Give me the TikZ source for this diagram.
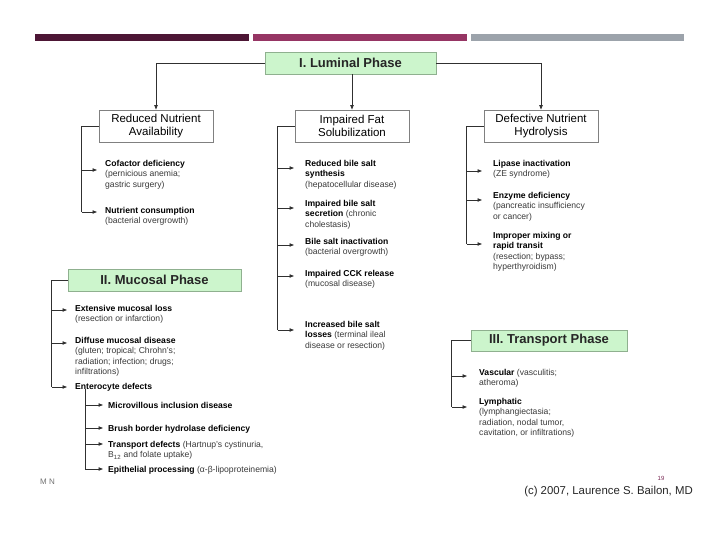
\documentclass[tikz,border=0pt]{standalone}
\usepackage{fontspec}
\setmainfont{Liberation Sans}
\usetikzlibrary{arrows.meta}
\definecolor{barA}{HTML}{4D1635}
\definecolor{barB}{HTML}{963564}
\definecolor{barC}{HTML}{9CA3AB}
\definecolor{greenfill}{HTML}{CCF5CC}
\definecolor{greenedge}{HTML}{8FB08F}
\definecolor{boxedge}{HTML}{808080}
\definecolor{txtgray}{HTML}{3A3A3A}
\definecolor{linegray}{HTML}{303030}
\definecolor{pagenum}{HTML}{7A2A55}
\tikzset{
  phasebox/.style={draw=greenedge, fill=greenfill, line width=0.8pt, inner sep=0pt,
    font=\fontsize{13}{15}\selectfont\bfseries, text=black!85},
  catbox/.style={draw=boxedge, fill=white, line width=0.8pt, inner sep=0pt, align=center,
    minimum width=114pt, minimum height=32pt, font=\fontsize{11.5}{12.5}\selectfont},
  item/.style={anchor=north west, inner sep=0pt, align=left,
    font=\fontsize{8.6}{10.5}\selectfont},
  ln/.style={draw=linegray, line width=0.8pt},
  arr/.style={ln, -{Triangle[length=4.5pt,width=3.4pt]}},
}
\newcommand{\rg}[1]{{\mdseries\color{txtgray}#1}}
\begin{document}
\begin{tikzpicture}[x=1pt,y=-1pt]
\useasboundingbox (0,0) rectangle (720,540);
\fill[white] (0,0) rectangle (720,540);
% top bars
\fill[barA] (35,34) rectangle (249,41);
\fill[barB] (253,34) rectangle (467,41);
\fill[barC] (471,34) rectangle (684,41);

% phase boxes
\node[phasebox, minimum width=171pt, minimum height=22pt] (lum) at (350.5,63) {I. Luminal Phase};
\node[phasebox, minimum width=173pt, minimum height=22pt] (muc) at (154.5,280) {II. Mucosal Phase};
\node[phasebox, minimum width=156pt, minimum height=21pt] (trn) at (549,340.5) {III. Transport Phase};

% category boxes
\node[catbox] (rna) at (156,126) {Reduced Nutrient\\Availability};
\node[catbox] (ifs) at (352,126) {Impaired Fat\\Solubilization};
\node[catbox] (dnh) at (541,126) {Defective Nutrient\\Hydrolysis};

\draw[arr] (lum.west) -| (rna.north);
\draw[arr] (lum.east) -| (dnh.north);
\draw[arr] (lum.south -| ifs.north) -- (ifs.north);

% column 1
\node[item] (c1a) at (105,160) {\textbf{Cofactor deficiency}\\\rg{(pernicious anemia;}\\\rg{gastric surgery)}};
\node[item] (c1b) at (105,207) {\textbf{Nutrient consumption}\\\rg{(bacterial overgrowth)}};
\coordinate (t1a) at (97,170);
\coordinate (t1b) at (97,212);
\draw[ln] (rna.west) -- ++(-17,0) coordinate (b1) -- (b1 |- t1b);
\draw[arr] (b1 |- t1a) -- (t1a);
\draw[arr] (b1 |- t1b) -- (t1b);

% column 2
\node[item] (c2a) at (305,160) {\textbf{Reduced bile salt}\\\textbf{synthesis}\\\rg{(hepatocellular disease)}};
\node[item] (c2b) at (305,200) {\textbf{Impaired bile salt}\\\textbf{secretion} \rg{(chronic}\\\rg{cholestasis)}};
\node[item] (c2c) at (305,238) {\textbf{Bile salt inactivation}\\\rg{(bacterial overgrowth)}};
\node[item] (c2d) at (305,270) {\textbf{Impaired CCK release}\\\rg{(mucosal disease)}};
\node[item] (c2e) at (305,321) {\textbf{Increased bile salt}\\\textbf{losses} \rg{(terminal ileal}\\\rg{disease or resection)}};
\coordinate (t2a) at (294,168);
\coordinate (t2b) at (294,208);
\coordinate (t2c) at (294,245);
\coordinate (t2d) at (294,276);
\coordinate (t2e) at (294,330);
\draw[ln] (ifs.west) -- ++(-17,0) coordinate (b2) -- (b2 |- t2e);
\foreach \t in {t2a,t2b,t2c,t2d,t2e} \draw[arr] (b2 |- \t) -- (\t);

% column 3
\node[item] (c3a) at (493,160) {\textbf{Lipase inactivation}\\\rg{(ZE syndrome)}};
\node[item] (c3b) at (493,192) {\textbf{Enzyme deficiency}\\\rg{(pancreatic insufficiency}\\\rg{or cancer)}};
\node[item] (c3c) at (493,232) {\textbf{Improper mixing or}\\\textbf{rapid transit}\\\rg{(resection; bypass;}\\\rg{hyperthyroidism)}};
\coordinate (t3a) at (482,171);
\coordinate (t3b) at (482,200);
\coordinate (t3c) at (482,244);
\draw[ln] (dnh.west) -- ++(-17,0) coordinate (b3) -- (b3 |- t3c);
\foreach \t in {t3a,t3b,t3c} \draw[arr] (b3 |- \t) -- (\t);

% mucosal phase
\node[item] (m1) at (75,305) {\textbf{Extensive mucosal loss}\\\rg{(resection or infarction)}};
\node[item] (m2) at (75,337) {\textbf{Diffuse mucosal disease}\\\rg{(gluten; tropical; Chrohn's;}\\\rg{radiation; infection; drugs;}\\\rg{infiltrations)}};
\node[item] (m3) at (75,383) {\textbf{Enterocyte defects}};
\coordinate (tm1) at (67,310);
\coordinate (tm2) at (67,343);
\coordinate (tm3) at (67,387);
\draw[ln] (muc.west) -- ++(-16,0) coordinate (bm) -- (bm |- tm3);
\foreach \t in {tm1,tm2,tm3} \draw[arr] (bm |- \t) -- (\t);

\node[item] (s1) at (108,402) {\textbf{Microvillous inclusion disease}};
\node[item] (s2) at (108,425) {\textbf{Brush border hydrolase deficiency}};
\node[item] (s3) at (108,441) {\textbf{Transport defects} \rg{(Hartnup's cystinuria,}\\\rg{B\textsubscript{12} and folate uptake)}};
\node[item] (s4) at (108,466) {\textbf{Epithelial processing} \rg{(α-β-lipoproteinemia)}};
\coordinate (ts1) at (103,405);
\coordinate (ts2) at (103,428);
\coordinate (ts3) at (103,444);
\coordinate (ts4) at (103,469);
\draw[ln] ([xshift=10pt,yshift=2pt]m3.south west) coordinate (bs) -- (bs |- ts4);
\foreach \t in {ts1,ts2,ts3,ts4} \draw[arr] (bs |- \t) -- (\t);

% transport phase
\node[item] (r1) at (479,369) {\textbf{Vascular} \rg{(vasculitis;}\\\rg{atheroma)}};
\node[item] (r2) at (479,398) {\textbf{Lymphatic}\\\rg{(lymphangiectasia;}\\\rg{radiation, nodal tumor,}\\\rg{cavitation, or infiltrations)}};
\coordinate (tr1) at (467,376);
\coordinate (tr2) at (467,407);
\draw[ln] (trn.west) -- ++(-19,0) coordinate (br) -- (br |- tr2);
\foreach \t in {tr1,tr2} \draw[arr] (br |- \t) -- (\t);

% footer
\node[anchor=west, inner sep=0pt, font=\fontsize{8}{9}\selectfont, text=black!55] (mn) at (40,482) {M N};
\node[anchor=center, inner sep=0pt, font=\fontsize{6}{7}\selectfont, text=pagenum] (pg) at (661,478) {19};
\node[anchor=east, inner sep=0pt, font=\fontsize{11.4}{12}\selectfont, text=black!85] (cr) at (693,492) {(c) 2007, Laurence S. Bailon, MD};
\end{tikzpicture}
\end{document}
